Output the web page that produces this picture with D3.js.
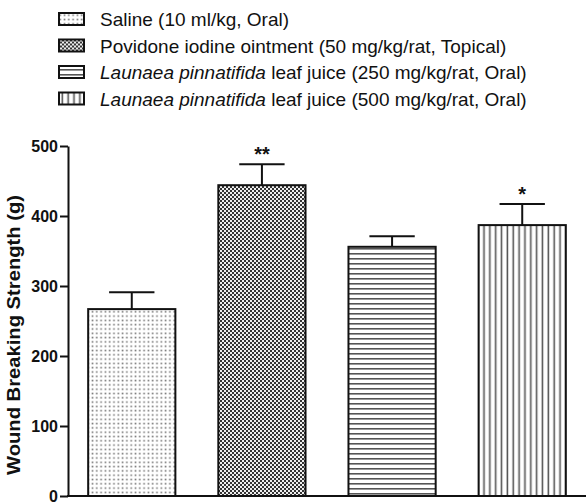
<!DOCTYPE html>
<html>
<head>
<meta charset="utf-8">
<script src="https://cdn.jsdelivr.net/npm/d3@7"></script>
<style>
  body { margin: 0; background: #fff; }
  svg { display: block; font-family: "Liberation Sans", Arial, sans-serif; }
</style>
</head>
<body>
<svg id="chart" width="586" height="502"></svg>
<script>
// Data
const groups = ['saline', 'povidone', 'lp250', 'lp500'];
const means = [267, 444, 356, 387];
const errors = [24, 30, 15, 30];
const significance = ['', '**', '', '*'];
const legendItalic = ['', '', 'Launaea pinnatifida', 'Launaea pinnatifida'];
const legendText = [
  'Saline (10 ml/kg, Oral)',
  'Povidone iodine ointment (50 mg/kg/rat, Topical)',
  ' leaf juice (250 mg/kg/rat, Oral)',
  ' leaf juice (500 mg/kg/rat, Oral)'
];
const yTicks = [0, 100, 200, 300, 400, 500];

const svg = d3.select('#chart');
const margin = { left: 68, right: 0, top: 146, bottom: 6 };
const height = 502;
const width = 586;

// Patterns
const defs = svg.append('defs');

const dots = defs.append('pattern')
  .attr('id', 'pat-saline').attr('patternUnits', 'userSpaceOnUse')
  .attr('width', 4.3).attr('height', 4.3);
dots.append('rect').attr('width', 4.3).attr('height', 4.3).attr('fill', '#fff');
dots.append('rect').attr('x', 1.4).attr('y', 1.4).attr('width', 1.6).attr('height', 1.6).attr('fill', '#777');

const checker = defs.append('pattern')
  .attr('id', 'pat-povidone').attr('patternUnits', 'userSpaceOnUse')
  .attr('width', 4).attr('height', 4);
checker.append('rect').attr('width', 4).attr('height', 4).attr('fill', '#eee');
checker.append('rect').attr('width', 2).attr('height', 2).attr('fill', '#333');
checker.append('rect').attr('x', 2).attr('y', 2).attr('width', 2).attr('height', 2).attr('fill', '#333');

const hlines = defs.append('pattern')
  .attr('id', 'pat-lp250').attr('patternUnits', 'userSpaceOnUse')
  .attr('width', 5).attr('height', 5);
hlines.append('rect').attr('width', 5).attr('height', 5).attr('fill', '#fff');
hlines.append('rect').attr('y', 3).attr('width', 5).attr('height', 1.6).attr('fill', '#555');

const vlines = defs.append('pattern')
  .attr('id', 'pat-lp500').attr('patternUnits', 'userSpaceOnUse')
  .attr('width', 5.85).attr('height', 5.85);
vlines.append('rect').attr('width', 5.85).attr('height', 5.85).attr('fill', '#fff');
vlines.append('rect').attr('x', 3.5).attr('width', 1.6).attr('height', 5.85).attr('fill', '#555');

// Scales
const x = d3.scaleBand()
  .domain(groups)
  .range([margin.left, width - margin.right])
  .paddingInner(0.33)
  .paddingOuter(0.155);

const y = d3.scaleLinear()
  .domain([0, 500])
  .range([height - margin.bottom, margin.top]);

// Bars
const g = svg.append('g');
g.selectAll('.bar')
  .data(groups)
  .enter()
  .append('rect')
  .attr('class', 'bar')
  .attr('x', d => x(d))
  .attr('y', (d, i) => y(means[i]))
  .attr('width', x.bandwidth())
  .attr('height', (d, i) => y(0) - y(means[i]))
  .attr('fill', d => `url(#pat-${d})`)
  .attr('stroke', '#111')
  .attr('stroke-width', 2);

// Error bars (upper only)
const capW = x.bandwidth() * 0.52;
const err = g.selectAll('.err')
  .data(groups)
  .enter()
  .append('g')
  .attr('class', 'err')
  .attr('stroke', '#111')
  .attr('stroke-width', 2);

err.append('line')
  .attr('x1', d => x(d) + x.bandwidth() / 2)
  .attr('x2', d => x(d) + x.bandwidth() / 2)
  .attr('y1', (d, i) => y(means[i]))
  .attr('y2', (d, i) => y(means[i] + errors[i]));

err.append('line')
  .attr('x1', d => x(d) + x.bandwidth() / 2 - capW / 2)
  .attr('x2', d => x(d) + x.bandwidth() / 2 + capW / 2)
  .attr('y1', (d, i) => y(means[i] + errors[i]))
  .attr('y2', (d, i) => y(means[i] + errors[i]));

// Significance stars
g.selectAll('.sig')
  .data(groups)
  .enter()
  .append('text')
  .attr('class', 'sig')
  .attr('x', d => x(d) + x.bandwidth() / 2)
  .attr('y', (d, i) => y(means[i] + errors[i]) - 3)
  .attr('text-anchor', 'middle')
  .style('font-size', '20px')
  .style('font-weight', 'bold')
  .attr('fill', '#111')
  .text((d, i) => significance[i]);

// Y axis
const yAxis = svg.append('g')
  .attr('transform', `translate(${margin.left},0)`)
  .call(d3.axisLeft(y).tickValues(yTicks).tickSize(8).tickSizeOuter(0).tickPadding(2));

yAxis.select('.domain').attr('stroke', '#111').attr('stroke-width', 2);
yAxis.selectAll('.tick line').attr('stroke', '#111').attr('stroke-width', 2);
yAxis.selectAll('.tick text')
  .attr('fill', '#111')
  .style('font-size', '16px')
  .style('font-weight', 'bold')
  .style('font-family', '"Liberation Sans", Arial, sans-serif');

// X axis baseline
svg.append('line')
  .attr('x1', margin.left - 1)
  .attr('x2', width)
  .attr('y1', y(0))
  .attr('y2', y(0))
  .attr('stroke', '#111')
  .attr('stroke-width', 2);

// Y axis title
svg.append('text')
  .attr('transform', `translate(20, 335) rotate(-90)`)
  .attr('text-anchor', 'middle')
  .attr('textLength', 280)
  .attr('lengthAdjust', 'spacingAndGlyphs')
  .style('font-size', '19px')
  .style('font-weight', 'bold')
  .attr('fill', '#111')
  .text('Wound Breaking Strength (g)');

// Legend
const legend = svg.append('g')
  .attr('transform', 'translate(58, 13)');

const items = legend.selectAll('.item')
  .data(groups)
  .enter()
  .append('g')
  .attr('class', 'item')
  .attr('transform', (d, i) => `translate(0, ${i * 26.5})`);

items.append('rect')
  .attr('x', 1)
  .attr('y', 0)
  .attr('width', 25)
  .attr('height', 12)
  .attr('fill', d => `url(#pat-${d})`)
  .attr('stroke', '#111')
  .attr('stroke-width', 2);

const labels = items.append('text')
  .attr('x', 42)
  .attr('y', 13)
  .style('font-size', '19px')
  .attr('fill', '#111');

labels.append('tspan')
  .style('font-style', 'italic')
  .text((d, i) => legendItalic[i]);

labels.append('tspan')
  .text((d, i) => legendText[i]);
</script>
</body>
</html>
